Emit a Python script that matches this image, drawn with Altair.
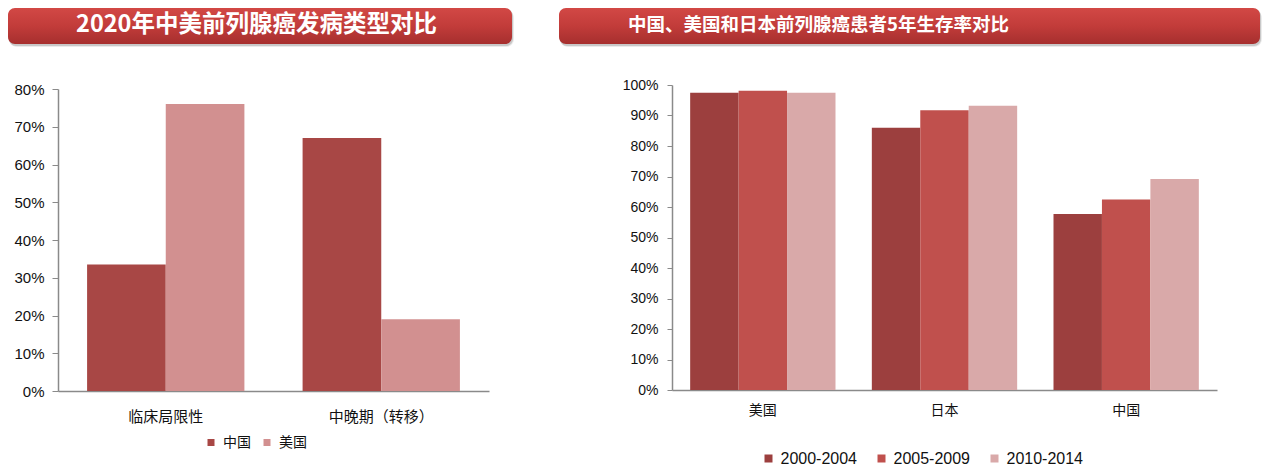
import altair as alt
import pandas as pd

CJK = "Noto Sans CJK SC"
LAT = "Liberation Sans"

# ---------------- data ----------------
left_title = "2020年中美前列腺癌发病类型对比"
left_categories = ["临床局限性", "中晚期（转移）"]
left_series = ["中国", "美国"]
left_china = [0.335, 0.67]
left_us = [0.76, 0.19]
left_y_ticks = [0, 0.1, 0.2, 0.3, 0.4, 0.5, 0.6, 0.7, 0.8]
left_colors = ["#a84745", "#d29090"]

right_title = "中国、美国和日本前列腺癌患者5年生存率对比"
right_countries = ["美国", "日本", "中国"]
right_periods = ["2000-2004", "2005-2009", "2010-2014"]
right_2000 = [0.975, 0.86, 0.577]
right_2005 = [0.981, 0.917, 0.625]
right_2010 = [0.975, 0.932, 0.692]
right_y_ticks = [0, 0.1, 0.2, 0.3, 0.4, 0.5, 0.6, 0.7, 0.8, 0.9, 1.0]
right_colors = ["#9c3f3e", "#c0504d", "#d9a9a9"]

left_rows = []
for i, c in enumerate(left_categories):
    left_rows.append({"类型": c, "国家": left_series[0], "占比": left_china[i]})
    left_rows.append({"类型": c, "国家": left_series[1], "占比": left_us[i]})
df_left = pd.DataFrame(left_rows)

right_rows = []
for i, c in enumerate(right_countries):
    for p, vals in zip(right_periods, [right_2000, right_2005, right_2010]):
        right_rows.append({"国别": c, "时期": p, "生存率": vals[i]})
df_right = pd.DataFrame(right_rows)

one = pd.DataFrame({"k": [0]})

grad = alt.Gradient(
    gradient="linear", x1=0, x2=0, y1=0, y2=1,
    stops=[alt.GradientStop(color="#d24845", offset=0),
           alt.GradientStop(color="#c23c3a", offset=0.5),
           alt.GradientStop(color="#a62f2e", offset=1)],
)


def banner_layers(x1, x2, y1, y2, title, tx, ty, fs):
    sh1 = alt.Chart(one).mark_rect(cornerRadius=8, color="#000000", opacity=0.08).encode(
        x=alt.value(x1 + 1), x2=alt.value(x2 + 2), y=alt.value(y1 + 2), y2=alt.value(y2 + 3))
    sh2 = alt.Chart(one).mark_rect(cornerRadius=7, color="#000000", opacity=0.15).encode(
        x=alt.value(x1 + 1), x2=alt.value(x2 + 1), y=alt.value(y1 + 1), y2=alt.value(y2 + 2))
    bn = alt.Chart(one).mark_rect(cornerRadius=7, color=grad).encode(
        x=alt.value(x1), x2=alt.value(x2), y=alt.value(y1), y2=alt.value(y2))
    tt = alt.Chart(one).mark_text(font=CJK, fontSize=fs, fontWeight="bold", color="white",
                                  align="center", baseline="middle").encode(
        x=alt.value(tx), y=alt.value(ty), text=alt.value(title))
    return [sh1, sh2, bn, tt]


# ---------------- left chart ----------------
LW, LH = 431, 302
bars_left = alt.Chart(df_left).mark_bar().encode(
    x=alt.X("类型:N", sort=left_categories,
            scale=alt.Scale(paddingInner=0.27, paddingOuter=0.135),
            axis=alt.Axis(title=None, labelAngle=0, ticks=False, tickSize=0,
                          domainColor="#8a8a8a", domainWidth=1.5,
                          labelFont=CJK, labelFontSize=15, labelColor="#111111",
                          labelPadding=18)),
    xOffset=alt.XOffset("国家:N", sort=left_series,
                        scale=alt.Scale(domain=left_series, paddingInner=0, paddingOuter=0)),
    y=alt.Y("占比:Q", scale=alt.Scale(domain=[0, 0.8], nice=False),
            axis=alt.Axis(values=left_y_ticks, format=".0%", grid=False, title=None,
                          tickSize=6, tickColor="#8a8a8a", domainColor="#8a8a8a",
                          domainWidth=1.5, labelFont=LAT, labelFontSize=15,
                          labelColor="#111111", labelPadding=8)),
    color=alt.Color("国家:N", sort=left_series,
                    scale=alt.Scale(domain=left_series, range=left_colors),
                    legend=alt.Legend(orient="none", legendX=146, legendY=346.5,
                                      direction="horizontal", title=None,
                                      symbolType="square", symbolSize=49,
                                      symbolStrokeWidth=0, labelFont=CJK,
                                      labelFontSize=14, labelColor="#111111",
                                      labelOffset=5, columnPadding=9, padding=0)),
)
left = alt.layer(*banner_layers(-50, 454, -81, -45, left_title, 198.5, -64, 23.5),
                 bars_left).properties(width=LW, height=LH)

# ---------------- right chart ----------------
RW, RH = 545, 301
bars_right = alt.Chart(df_right).mark_bar().encode(
    x=alt.X("国别:N", sort=right_countries,
            scale=alt.Scale(paddingInner=0.2, paddingOuter=0.1),
            axis=alt.Axis(title=None, labelAngle=0, ticks=False, tickSize=0,
                          domainColor="#8a8a8a", domainWidth=1.5,
                          labelFont=CJK, labelFontSize=14, labelColor="#111111",
                          labelPadding=13)),
    xOffset=alt.XOffset("时期:N", sort=right_periods,
                        scale=alt.Scale(domain=right_periods, paddingInner=0, paddingOuter=0)),
    y=alt.Y("生存率:Q", scale=alt.Scale(domain=[0, 1], nice=False, range=[RH, -4]),
            axis=alt.Axis(values=right_y_ticks, format=".0%", grid=False, title=None,
                          tickSize=5, tickColor="#8a8a8a", domainColor="#8a8a8a",
                          domainWidth=1.5, labelFont=LAT, labelFontSize=14,
                          labelColor="#111111", labelPadding=9)),
    color=alt.Color("时期:N", sort=right_periods,
                    scale=alt.Scale(domain=right_periods, range=right_colors),
                    legend=alt.Legend(orient="none", legendX=88.5, legendY=361.5,
                                      direction="horizontal", title=None,
                                      symbolType="square", symbolSize=64,
                                      symbolStrokeWidth=0, labelFont=LAT,
                                      labelFontSize=16, labelColor="#111111",
                                      labelOffset=4, columnPadding=16, padding=0)),
)
right = alt.layer(*banner_layers(-113, 588, -81, -45, right_title, 146.5, -64, 18.5),
                  bars_right).properties(width=RW, height=RH)

chart = alt.hconcat(left, right, spacing=45, padding=0).resolve_scale(
    color="independent", xOffset="independent", x="independent", y="independent"
).configure_view(stroke=None)

chart.save("out.html", embed_options={"renderer": "svg", "actions": False})
